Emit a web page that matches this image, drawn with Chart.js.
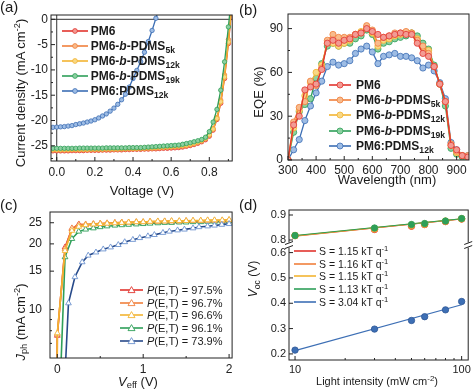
<!DOCTYPE html>
<html>
<head>
<meta charset="utf-8">
<title>PM6 / PDMS device figure</title>
<script src="https://cdn.jsdelivr.net/npm/chart.js@4.4.1/dist/chart.umd.min.js"></script>
<style>
  body { margin: 0; background: #fff; }
  #fig { position: relative; width: 474px; height: 391px; overflow: hidden;
         font-family: "Liberation Sans", Arial, sans-serif; color: #1b1b1b; }
  #fig canvas { position: absolute; }
  .txt { position: absolute; white-space: nowrap; line-height: 1; }
  .c { transform: translate(-50%, -50%); }
  .r { transform: translate(-50%, -50%) rotate(-90deg); }
  .panel { font-size: 15px; }
  .axt { font-size: 13px; }
  .leg { position: absolute; white-space: nowrap; }
  .leg .it { display: flex; align-items: center; }
  .leg svg { flex: none; }
  .bold { font-weight: bold; font-size: 12px; }
  .plain { font-size: 11px; }
  .small { font-size: 10.5px; }
  sub { font-size: 72%; vertical-align: -0.3em; line-height: 0; }
  sup { font-size: 72%; vertical-align: 0.5em; line-height: 0; }
</style>
</head>
<body>
<div id="fig">
  <canvas id="cA" width="237" height="195" style="left:0;top:0"></canvas>
  <canvas id="cB" width="237" height="195" style="left:237px;top:0"></canvas>
  <canvas id="cC" width="237" height="196" style="left:0;top:195px"></canvas>
  <canvas id="cD" width="237" height="196" style="left:237px;top:195px"></canvas>

  <div class="txt panel" style="left:0;top:-1px">(a)</div>
  <div class="txt panel" style="left:239px;top:2px">(b)</div>
  <div class="txt panel" style="left:0;top:197px">(c)</div>
  <div class="txt panel" style="left:239px;top:197px">(d)</div>

  <div class="txt axt r" style="left:19.5px;top:93px">Current density (mA cm<sup>-2</sup>)</div>
  <div class="txt axt c" style="left:142px;top:190px">Voltage (V)</div>
  <div class="txt axt r" style="left:257.5px;top:92px">EQE (%)</div>
  <div class="txt axt c" style="left:387px;top:178.5px">Wavelength (nm)</div>
  <div class="txt axt r" style="left:20px;top:322px"><i>J</i><sub>ph</sub> (mA cm<sup>-2</sup>)</div>
  <div class="txt axt c" style="left:138px;top:381px"><i>V</i><sub>eff</sub> (V)</div>
  <div class="txt axt r" style="left:253px;top:279px;font-size:12px"><i>V</i><sub>oc</sub> (V)</div>
  <div class="txt axt c" style="left:377px;top:381px;font-size:11px">Light intensity (mW cm<sup>-2</sup>)</div>
</div>
<script>
// ---- (a) J-V curves ----
const voltage = [-0.02, 0.00, 0.02, 0.04, 0.06, 0.08, 0.10, 0.12, 0.14, 0.16,
                  0.18, 0.20, 0.22, 0.24, 0.26, 0.28, 0.30, 0.32, 0.34, 0.36,
                  0.38, 0.40, 0.42, 0.44, 0.46, 0.48, 0.50, 0.52, 0.54, 0.56,
                  0.58, 0.60, 0.62, 0.64, 0.66, 0.68, 0.70, 0.72, 0.74, 0.76,
                  0.78, 0.80, 0.82, 0.84, 0.86, 0.88, 0.90, 0.92];
const jPM6 = [-26.0, -26.0, -26.0, -26.0, -26.0, -25.95, -25.95, -25.95, -25.95, -25.9,
              -25.9, -25.9, -25.9, -25.85, -25.85, -25.85, -25.8, -25.8, -25.8, -25.75,
              -25.75, -25.7, -25.7, -25.7, -25.65, -25.65, -25.6, -25.6, -25.55, -25.5,
              -25.5, -25.45, -25.4, -25.35, -25.25, -25.1, -24.95, -24.75, -24.5, -24.2,
              -23.8, -23.1, -21.9, -19.8, -16.6, -11.7, -4.8, 3.0];
const j5k = [-25.85, -25.85, -25.85, -25.85, -25.85, -25.8, -25.8, -25.8, -25.8, -25.8,
             -25.75, -25.75, -25.75, -25.75, -25.7, -25.7, -25.7, -25.7, -25.65, -25.65,
             -25.6, -25.6, -25.6, -25.55, -25.55, -25.5, -25.5, -25.45, -25.4, -25.35,
             -25.3, -25.25, -25.2, -25.15, -25.05, -24.95, -24.8, -24.6, -24.35, -24.05,
             -23.6, -22.9, -21.6, -19.4, -16.0, -11.0, -4.0, 4.0];
const j12k = [-25.75, -25.75, -25.75, -25.75, -25.75, -25.7, -25.7, -25.7, -25.7, -25.7,
              -25.65, -25.65, -25.65, -25.65, -25.6, -25.6, -25.6, -25.6, -25.55, -25.55,
              -25.5, -25.5, -25.5, -25.45, -25.45, -25.4, -25.4, -25.35, -25.3, -25.25,
              -25.2, -25.15, -25.1, -25.05, -24.95, -24.85, -24.7, -24.5, -24.25, -23.95,
              -23.5, -22.8, -21.7, -19.6, -16.3, -11.4, -4.5, 3.5];
const j19k = [-25.5, -25.5, -25.5, -25.5, -25.5, -25.5, -25.5, -25.45, -25.45, -25.45,
              -25.45, -25.45, -25.45, -25.45, -25.4, -25.4, -25.4, -25.4, -25.4, -25.4,
              -25.35, -25.35, -25.35, -25.35, -25.3, -25.25, -25.2, -25.15, -25.1, -25.05,
              -25.0, -24.95, -24.9, -24.85, -24.7, -24.55, -24.4, -24.2, -24.0, -23.75,
              -23.3, -22.2, -20.3, -17.8, -14.0, -8.4, -1.5, 6.0];
const voltageBlend = [-0.02, 0.00, 0.02, 0.04, 0.06, 0.08, 0.10, 0.12, 0.14, 0.16,
                       0.18, 0.20, 0.22, 0.24, 0.26, 0.28, 0.30, 0.32, 0.34, 0.36,
                       0.38, 0.40, 0.42, 0.44, 0.46, 0.48, 0.50, 0.52, 0.54];
const jBlend = [-21.35, -21.3, -21.25, -21.2, -21.1, -21.0, -20.8, -20.65, -20.5, -20.3,
                -20.1, -19.85, -19.5, -19.1, -18.7, -18.15, -17.55, -16.8, -15.9, -14.8,
                -13.4, -11.7, -10.1, -8.4, -6.5, -4.4, -2.2, 0.2, 2.7];
const ticksAx = [0, 0.2, 0.4, 0.6, 0.8];
const ticksAy = [0, -5, -10, -15, -20, -25];

// ---- (b) EQE spectra ----
const wavelength = [300, 320, 340, 360, 380, 400, 420, 440, 460, 480, 500, 520, 540, 560, 580, 600, 620,
                    640, 660, 680, 700, 720, 740, 760, 780, 800, 820, 840, 860, 880, 900, 920, 940];
const eqePM6 = [0, 24, 30, 48, 50, 52, 62, 80, 82, 80, 82, 83, 86, 87, 90, 88, 86,
                84, 85, 86, 87, 86, 86, 80, 73, 71, 64, 52, 40, 10, 7, 3, 2];
const eqe5k = [0, 26, 36, 40, 54, 51, 63, 82, 86, 84, 84, 84, 86, 87, 92, 89, 80,
               84, 85, 87, 87, 88, 87, 82, 78, 73, 64, 52, 40, 11, 6, 3, 3];
const eqe12k = [0, 22, 34, 44, 53, 60, 65, 80, 80, 78, 80, 82, 86, 88, 91, 87, 78,
                82, 83, 85, 86, 87, 87, 83, 77, 75, 64, 52, 40, 10, 5, 3, 2];
const eqe19k = [0, 19, 33, 38, 42, 56, 66, 78, 80, 78, 80, 80, 83, 85, 89, 86, 76,
                80, 81, 83, 84, 85, 87, 85, 80, 76, 65, 52, 37, 8, 4, 2, 2];
const eqeBlend = [0, 7, 14, 27, 37, 46, 54, 64, 67, 65, 66, 68, 73, 76, 78, 74, 66,
                  71, 72, 73, 71, 71, 70, 68, 63, 65, 61, 53, 42, 12, 7, 3, 3];
const ticksBx = [300, 400, 500, 600, 700, 800, 900];
const ticksBy = [0, 30, 60, 90];

// ---- (c) photocurrent ----
const vEff = [-0.005, 0, 0.09, 0.17, 0.25, 0.33, 0.42, 0.50, 0.58, 0.67, 0.75, 0.83, 0.92,
              1.00, 1.08, 1.17, 1.25, 1.33, 1.42, 1.50, 1.58, 1.67, 1.75, 1.83, 1.92, 2.00];
const jphPM6 = [2.5, 7.6, 19.3, 23.4, 24.6, 24.4, 24.6, 24.7, 24.8, 24.9, 25.0, 25.0, 25.1,
                25.1, 25.2, 25.2, 25.3, 25.3, 25.3, 25.4, 25.4, 25.4, 25.5, 25.5, 25.5, 25.6];
const jph5k = [2.5, 7.7, 19.0, 23.6, 24.5, 24.6, 24.7, 24.8, 24.9, 25.0, 25.1, 25.1, 25.2,
               25.2, 25.3, 25.3, 25.4, 25.4, 25.4, 25.5, 25.5, 25.5, 25.6, 25.6, 25.6, 25.7];
const jph12k = [2.5, 7.8, 18.6, 23.0, 24.0, 24.4, 24.6, 24.7, 24.8, 24.9, 25.0, 25.1, 25.2,
                25.2, 25.3, 25.4, 25.4, 25.5, 25.5, 25.5, 25.6, 25.6, 25.7, 25.7, 25.7, 25.8];
const jph19k = [null, 2.0, 17.4, 21.1, 22.8, 23.3, 23.6, 23.9, 24.1, 24.3, 24.4, 24.5, 24.6,
                24.7, 24.8, 24.9, 25.0, 25.0, 25.1, 25.1, 25.2, 25.2, 25.3, 25.3, 25.3, 25.4];
const vEffBlend = [0.08, 0.13, 0.205, 0.29, 0.36, 0.45, 0.535, 0.62, 0.71, 0.785, 0.88, 0.96,
                   1.055, 1.13, 1.23, 1.305, 1.40, 1.48, 1.58, 1.65, 1.75, 1.83, 1.915, 2.00];
const jphBlend = [4.2, 10.7, 14.1, 16.5, 17.7, 18.3, 18.9, 19.3, 19.8, 20.4, 20.9, 21.3,
                  21.7, 22.0, 22.5, 22.8, 23.1, 23.3, 23.6, 23.9, 24.1, 24.3, 24.5, 24.7];
const ticksCx = [0, 1, 2];
const ticksCy = [10, 15, 20, 25];

// ---- (d) Voc vs light intensity ----
const intensity = [10, 30, 50, 60, 80, 100];
const vocPM6 = [0.818, 0.842, 0.855, 0.862, 0.874, 0.884];
const voc5k = [0.817, 0.843, 0.856, 0.862, 0.874, 0.884];
const voc12k = [0.818, 0.846, 0.860, 0.864, 0.876, 0.885];
const voc19k = [0.818, 0.848, 0.862, 0.866, 0.876, 0.886];
const vocBlend = [0.215, 0.298, 0.332, 0.347, 0.374, 0.407];
const fitEnds = [10, 100];
const fitPM6 = [0.816, 0.884];
const fit5k = [0.815, 0.884];
const fit12k = [0.817, 0.885];
const fit19k = [0.818, 0.885];
const fitBlend = [0.213, 0.394];
const ticksDx = [10, 100];
const ticksDtop = [0.8, 0.9];
const ticksDbot = [0.2, 0.3, 0.4, 0.5, 0.6];

const namesAB = ['PM6', 'PM6-<i>b</i>-PDMS<sub>5k</sub>', 'PM6-<i>b</i>-PDMS<sub>12k</sub>',
                 'PM6-<i>b</i>-PDMS<sub>19k</sub>', 'PM6:PDMS<sub>12k</sub>'];
const namesC = ['<i>P</i>(E,T) = 97.5%', '<i>P</i>(E,T) = 96.7%', '<i>P</i>(E,T) = 96.6%',
                '<i>P</i>(E,T) = 96.1%', '<i>P</i>(E,T) = 73.9%'];
const namesD = ['S = 1.15 kT q<sup>-1</sup>', 'S = 1.16 kT q<sup>-1</sup>', 'S = 1.15 kT q<sup>-1</sup>',
                'S = 1.13 kT q<sup>-1</sup>', 'S = 3.04 kT q<sup>-1</sup>'];

const colors = ['#e2352f', '#f07f3c', '#f3b431', '#2e9f58', '#3d6fb5'];
const tints = ['#f29b94', '#f8bb8c', '#f8d886', '#8cd0a1', '#9dbce4'];
const navy = '#274a8a';

// inward ticks, frame, zero lines and axis break
const tickFrame = {
  id: 'tickFrame',
  beforeDatasetsDraw(chart, args, opts) {
    if (!opts.zero) return;
    const ctx = chart.ctx, a = chart.chartArea;
    const x0 = chart.scales.x.getPixelForValue(0), y0 = chart.scales.y.getPixelForValue(0);
    ctx.save();
    ctx.strokeStyle = '#333';
    ctx.lineWidth = 1;
    ctx.beginPath();
    ctx.moveTo(a.left, y0); ctx.lineTo(a.right, y0);
    ctx.moveTo(x0, a.top); ctx.lineTo(x0, a.bottom);
    ctx.stroke();
    ctx.restore();
  },
  afterDatasetsDraw(chart, args, opts) {
    const ctx = chart.ctx, a = chart.chartArea;
    ctx.save();
    ctx.strokeStyle = '#222';
    ctx.lineWidth = 1;
    ctx.strokeRect(a.left, a.top, a.right - a.left, a.bottom - a.top);
    Object.values(chart.scales).forEach(function (s) {
      const minor = (opts.minor || {})[s.id] || [];
      const marks = s.ticks.map(function (t) { return [t.value, 4]; })
        .concat(minor.map(function (v) { return [v, 2]; }));
      marks.forEach(function (m) {
        const p = s.getPixelForValue(m[0]);
        ctx.beginPath();
        if (s.isHorizontal()) {
          if (p < a.left || p > a.right) return;
          ctx.moveTo(p, a.bottom); ctx.lineTo(p, a.bottom - m[1]);
        } else {
          if (p < s.top - 0.5 || p > s.bottom + 0.5) return;
          ctx.moveTo(a.left, p); ctx.lineTo(a.left + m[1], p);
        }
        ctx.stroke();
      });
    });
    if (opts.brk) {
      const y = chart.scales[opts.brk].bottom;
      [a.left, a.right].forEach(function (x) {
        ctx.fillStyle = '#fff';
        ctx.fillRect(x - 4, y - 2.5, 8, 5);
        ctx.beginPath();
        ctx.moveTo(x - 4, y - 0.5); ctx.lineTo(x + 4, y - 3.5);
        ctx.moveTo(x - 4, y + 3.5); ctx.lineTo(x + 4, y + 0.5);
        ctx.stroke();
      });
    }
    ctx.restore();
  }
};
Chart.register(tickFrame);

function tk(size, pad, cb) {
  return { font: { family: 'Liberation Sans', size: size }, color: '#222', padding: pad,
           autoSkip: false, maxRotation: 0, callback: cb };
}
function fixTicks(list) { return function (s) { s.ticks = list.map(function (v) { return { value: v }; }); }; }
function fixW(w) { return function (s) { s.width = w; }; }
function fixH(h) { return function (s) { s.height = h; }; }
function xy(xs, ys) { return xs.map(function (x, i) { return { x: x, y: ys[i] }; }); }
const noGrid = { display: false, drawTicks: false };
const noBorder = { display: false };

function opts(pad, scales, frame) {
  return {
    responsive: false, animation: false, events: [],
    layout: { padding: pad },
    plugins: { legend: { display: false }, tooltip: { enabled: false }, tickFrame: frame },
    scales: scales
  };
}
function series(xs, ys, i, r, order, extra) {
  return Object.assign({
    data: xy(xs, ys), borderColor: colors[i], borderWidth: 1.3, backgroundColor: tints[i],
    pointRadius: r, pointBorderWidth: 0.8, pointBorderColor: colors[i], pointBackgroundColor: tints[i],
    tension: 0, clip: 0, order: order
  }, extra || {});
}

// (a)
new Chart(document.getElementById('cA'), {
  type: 'line',
  data: { datasets: [
    series(voltage, jPM6, 0, 2.2, 4),
    series(voltage, j5k, 1, 2.2, 3),
    series(voltage, j12k, 2, 2.2, 2),
    series(voltage, j19k, 3, 2.2, 1),
    series(voltageBlend, jBlend, 4, 2.2, 0)
  ] },
  options: opts({ top: 15, right: 4 }, {
    x: { type: 'linear', min: -0.03, max: 0.92, grid: noGrid, border: noBorder,
         afterBuildTicks: fixTicks(ticksAx), afterFit: fixH(34),
         ticks: tk(12, 4, function (v) { return v.toFixed(1); }) },
    y: { type: 'linear', min: -28, max: 0.85, grid: noGrid, border: noBorder,
         afterBuildTicks: fixTicks(ticksAy), afterFit: fixW(51),
         ticks: tk(12, 3, function (v) { return String(v); }) }
  }, { zero: true, minor: { x: [0.1, 0.3, 0.5, 0.7, 0.9], y: [-2.5, -7.5, -12.5, -17.5, -22.5, -27.5] } })
});

// (b)
new Chart(document.getElementById('cB'), {
  type: 'line',
  data: { datasets: [
    series(wavelength, eqePM6, 0, 3.1, 0),
    series(wavelength, eqe5k, 1, 3.1, 1),
    series(wavelength, eqe12k, 2, 3.1, 2),
    series(wavelength, eqe19k, 3, 3.1, 3),
    series(wavelength, eqeBlend, 4, 3.1, 4)
  ] },
  options: opts({ top: 14, right: 5 }, {
    x: { type: 'linear', min: 300, max: 944, grid: noGrid, border: noBorder,
         afterBuildTicks: fixTicks(ticksBx), afterFit: fixH(35),
         ticks: tk(12, 3, function (v) { return String(v); }) },
    y: { type: 'linear', min: 0, max: 100, grid: noGrid, border: noBorder,
         afterBuildTicks: fixTicks(ticksBy), afterFit: fixW(51),
         ticks: tk(12, 5, function (v) { return String(v); }) }
  }, { minor: { x: [350, 450, 550, 650, 750, 850], y: [15, 45, 75] } })
});

// (c)
function triSet(xs, ys, i, lineCol, order) {
  return series(xs, ys, i, 3.3, order, {
    borderColor: lineCol, borderWidth: 1.6, pointStyle: 'triangle',
    pointBackgroundColor: '#fff', pointBorderColor: i === 4 ? '#6d93cf' : colors[i], pointBorderWidth: 0.9
  });
}
new Chart(document.getElementById('cC'), {
  type: 'line',
  data: { datasets: [
    triSet(vEff, jphPM6, 0, colors[0], 4),
    triSet(vEff, jph5k, 1, colors[1], 2),
    triSet(vEff, jph12k, 2, colors[2], 1),
    triSet(vEff, jph19k, 3, colors[3], 3),
    triSet(vEffBlend, jphBlend, 4, navy, 0)
  ] },
  options: opts({ top: 17, right: 4 }, {
    x: { type: 'linear', min: -0.085, max: 2.035, grid: noGrid, border: noBorder,
         afterBuildTicks: fixTicks(ticksCx), afterFit: fixH(33),
         ticks: tk(12, 4, function (v) { return String(v); }) },
    y: { type: 'logarithmic', min: 6, max: 28, grid: noGrid, border: noBorder,
         afterBuildTicks: fixTicks(ticksCy), afterFit: fixW(50),
         ticks: tk(12, 8, function (v) { return String(v); }) }
  }, { minor: { x: [0.5, 1.5], y: [7, 8, 9] } })
});

// (d)
function dotSet(ys, i, axis, order) {
  return series(intensity, ys, i, 3.2, order, { yAxisID: axis, showLine: false,
    pointBackgroundColor: colors[i], pointBorderColor: i === 4 ? '#2d5594' : colors[i] });
}
function fitSet(ys, i, axis, order) {
  return series(fitEnds, ys, i, 0, order, { yAxisID: axis, borderWidth: 1.2 });
}
new Chart(document.getElementById('cD'), {
  type: 'line',
  data: { datasets: [
    fitSet(fitPM6, 0, 'yTop', 13), fitSet(fit5k, 1, 'yTop', 12), fitSet(fit12k, 2, 'yTop', 11),
    fitSet(fit19k, 3, 'yTop', 10), fitSet(fitBlend, 4, 'yBot', 10),
    dotSet(vocPM6, 0, 'yTop', 4), dotSet(voc5k, 1, 'yTop', 3), dotSet(voc12k, 2, 'yTop', 2),
    dotSet(voc19k, 3, 'yTop', 1), dotSet(vocBlend, 4, 'yBot', 1)
  ] },
  options: opts({ top: 15, right: 5 }, {
    x: { type: 'logarithmic', min: 9.2, max: 109.5, grid: noGrid, border: noBorder,
         afterBuildTicks: fixTicks(ticksDx), afterFit: fixH(31),
         ticks: tk(11, 3, function (v) { return String(v); }) },
    yBot: { type: 'linear', position: 'left', stack: 'voc', stackWeight: 115, min: 0.176, max: 0.63,
            grid: noGrid, border: noBorder, afterBuildTicks: fixTicks(ticksDbot), afterFit: fixW(52),
            ticks: tk(11, 3, function (v) { return v.toFixed(1); }) },
    yTop: { type: 'linear', position: 'left', stack: 'voc', stackWeight: 35, min: 0.78, max: 0.92,
            grid: noGrid, border: noBorder, afterBuildTicks: fixTicks(ticksDtop), afterFit: fixW(52),
            ticks: tk(11, 3, function (v) { return v.toFixed(1); }) }
  }, { brk: 'yTop', minor: { x: [20, 30, 40, 50, 60, 70, 80, 90] } })
});

// legends (html so that italics and subscripts stay real text)
function legend(x, y, rowH, cls, names, symbol, gap) {
  const box = document.createElement('div');
  box.className = 'leg ' + cls;
  box.style.left = x + 'px';
  box.style.top = y + 'px';
  names.forEach(function (html, i) {
    const row = document.createElement('div');
    row.className = 'it';
    row.style.height = rowH + 'px';
    row.innerHTML = symbol(i) + '<span style="margin-left:' + gap + 'px">' + html + '</span>';
    box.appendChild(row);
  });
  document.getElementById('fig').appendChild(box);
}
function lineSym(len, i, marker) {
  return '<svg width="' + len + '" height="10"><line x1="0" y1="5" x2="' + len + '" y2="5" stroke="' +
    (marker === 'tri' && i === 4 ? navy : colors[i]) + '" stroke-width="1.6"/>' + (marker || '') .replace('tri', '') + '</svg>';
}
legend(61.7, 23.2, 15, 'bold', namesAB, function (i) {
  return lineSym(26, i, '<circle cx="13" cy="5" r="2.4" fill="' + tints[i] + '" stroke="' + colors[i] + '" stroke-width="0.8"/>');
}, 3);
legend(329, 77.5, 15.2, 'bold', namesAB, function (i) {
  return lineSym(22, i, '<circle cx="11" cy="5" r="3" fill="' + tints[i] + '" stroke="' + colors[i] + '" stroke-width="0.8"/>');
}, 5);
legend(120, 283.6, 12.7, 'plain', namesC, function (i) {
  const col = i === 4 ? navy : colors[i];
  const edge = i === 4 ? '#6d93cf' : colors[i];
  return '<svg width="23" height="10"><line x1="0" y1="5" x2="23" y2="5" stroke="' + col + '" stroke-width="1.6"/>' +
    '<polygon points="11.5,1.6 15,7.6 8,7.6" fill="#fff" stroke="' + edge + '" stroke-width="0.9"/></svg>';
}, 4);
legend(294, 244.6, 12.7, 'small', namesD, function (i) {
  return lineSym(22, i, '');
}, 3);
</script>
</body>
</html>
